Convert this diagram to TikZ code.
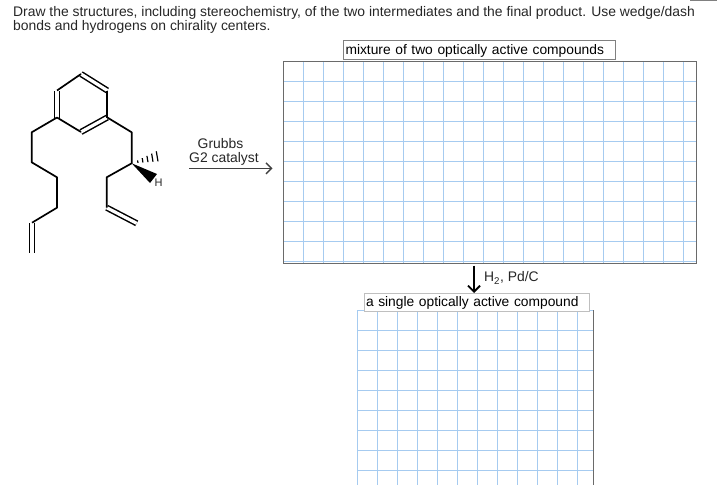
\documentclass[tikz,border=0pt]{standalone}
\usepackage{fontspec}
\setmainfont{Liberation Sans}
\usetikzlibrary{calc}
\usetikzlibrary{arrows.meta}
\definecolor{gridblue}{HTML}{A6CBF0}
\definecolor{framegray}{HTML}{6A6A6A}
\tikzset{
  bond/.style = {line width=1.7pt, line join=round},
  dbond/.style = {line width=1.5pt, double=white, double distance=3.2pt},
  gridline/.style = {gridblue, line width=0.9pt},
  framed/.style = {framegray, line width=0.9pt},
  labelbox/.style = {shape=rectangle, draw=gray, line width=1pt, fill=white,
    inner sep=0pt, text height=12pt, text depth=3pt, font=\fontsize{13.8}{15}\selectfont},
  plain/.style = {inner sep=0pt, font=\fontsize{13.9}{14}\selectfont, text=black!85}
}
\begin{document}
\begin{tikzpicture}[x=1pt, y=-1pt]
  \useasboundingbox (0,0) rectangle (717,487);
  \node[plain, anchor=north west, align=left] (title) at (13,6.5)
    {Draw the structures, including stereochemistry, of the two intermediates and the final product. Use wedge/dash\\
     bonds and hydrogens on chirality centers.};
  \coordinate (cornerA) at (690,0.5);
  \coordinate (cornerB) at (717,0.5);
  \draw[gray, line width=1pt] (cornerA) -- (cornerB);

  % top answer grid
  \foreach \x in {303,323,...,683}
    \draw[gridline] (\x,61) -- (\x,263);
  \foreach \y in {81.5,101.5,...,261.5}
    \draw[gridline] (283,\y) -- (696,\y);
  \coordinate (topNW) at (283,61);
  \coordinate (topSE) at (696,263.5);
  \draw[framed] (topNW) rectangle (topSE);
  \node[labelbox, anchor=south west, minimum width=272pt, minimum height=19pt,
    text width=268pt] (topLabel) at (343,60) {mixture of two optically active compounds};

  % bottom answer grid
  \foreach \x in {357,377,...,577}
    \draw[gridline] (\x,310) -- (\x,485);
  \foreach \y in {310,330,...,470}
    \draw[gridline] (357,\y) -- (593,\y);
  \coordinate (lowNE) at (593.5,310);
  \coordinate (lowSE) at (593.5,485);
  \draw[framed] (lowNE) -- (lowSE);
  \node[labelbox, draw=lightgray, anchor=south west, minimum width=225pt, minimum height=18pt,
    text width=221pt] (lowLabel) at (363.5,311.5) {a single optically active compound};

  % ring
  \coordinate (r1) at (81,74);
  \coordinate (r2) at (107.3,90.5);
  \coordinate (r3) at (107.3,117.5);
  \coordinate (r4) at (81,132);
  \coordinate (r5) at (57,117.5);
  \coordinate (r6) at (57,90.5);
  % left arm
  \coordinate (a1) at (31.7,132.3);
  \coordinate (a2) at (31.7,162.3);
  \coordinate (a3) at (57,177.3);
  \coordinate (a4) at (57,207.7);
  \coordinate (a5) at (32,222.7);
  \coordinate (a6) at (32,252.7);
  % right arm
  \coordinate (b1) at (131.7,132.3);
  \coordinate (b2) at (131.7,163.3);
  \coordinate (b3) at (106.7,177.3);
  \coordinate (b4) at (106.7,207.7);
  \coordinate (b5) at (136.7,223.3);
  \coordinate (hashEnd) at (162,155);
  \coordinate (wedgeA) at (157,174);
  \coordinate (wedgeB) at (150,183);

  \draw[dbond] (r1) -- (r2);
  \draw[dbond] (r3) -- (r4);
  \draw[dbond] (r5) -- (r6);
  \draw[dbond] (a5) -- (a6);
  \draw[dbond] (b4) -- (b5);
  \draw[bond] (r6) -- (r1);
  \draw[bond] (r2) -- (r3);
  \draw[bond] (r4) -- (r5);
  \draw[bond] (r5) -- (a1) -- (a2) -- (a3) -- (a4) -- (a5);
  \draw[bond] (r3) -- (b1) -- (b2) -- (b3) -- (b4);
  \fill (b2) -- (wedgeA) -- (wedgeB) -- cycle;
  \foreach \t in {0.2,0.36,...,1.0}
    \draw[line width=1.2pt] ($(b2)!\t!(hashEnd)+(-\t,-\t*6)$) -- ($(b2)!\t!(hashEnd)+(\t,\t*6)$);
  \node[plain, anchor=west] (hydrogen) at (154.5,182.5) {\fontsize{11}{12}\selectfont H};

  % reagents
  \node[plain, anchor=west, align=left] (catalyst) at (189,151.5) {\hspace*{8.5pt}Grubbs\\G2 catalyst};
  \coordinate (arrowA) at (189,168.3);
  \coordinate (arrowB) at (272.5,168.3);
  \draw[-{Straight Barb[length=5.5pt,width=11pt]}, line width=1.4pt, black!75] (arrowA) -- (arrowB);

  \coordinate (downA) at (474,265.5);
  \draw[-{Straight Barb[length=6pt,width=12pt]}, line width=1.8pt] (downA) -- (474,293);
  \node[plain, anchor=west] (reduce) at (484,278) {H\textsubscript{2}, Pd/C};
\end{tikzpicture}
\end{document}
